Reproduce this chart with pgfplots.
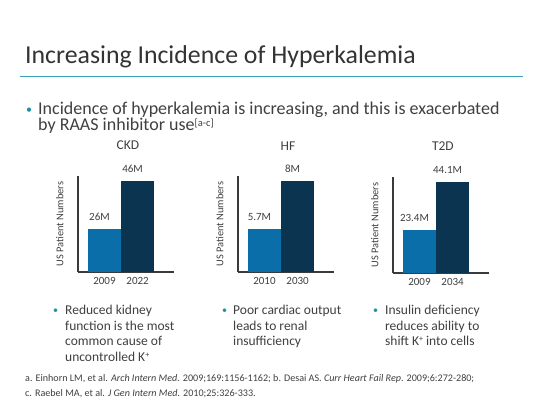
\documentclass[border=0pt]{standalone}
\usepackage{fontspec}
\setmainfont{Carlito}
\usepackage{pgfplots}
\pgfplotsset{compat=1.18}
\definecolor{txt}{HTML}{404040}
\definecolor{ttl}{HTML}{333333}
\definecolor{rulec}{HTML}{3AA0BA}
\definecolor{bul}{HTML}{1F8FA6}
\definecolor{cA}{HTML}{0A6FA8}
\definecolor{cB}{HTML}{0B3450}
\definecolor{axc}{HTML}{3A3A3A}
\newcommand{\fs}[1]{\fontsize{#1}{#1}\selectfont}
\pgfplotsset{panel/.style={
  scale only axis, width=96pt, height=96pt, anchor=south west,
  axis lines=left, axis line style={-, draw=axc, line width=1.3pt},
  xmin=0.2, xmax=3.1, xtick={1,2}, ytick=\empty, major tick length=0pt,
  ybar, bar width=1, bar shift=0pt,
  tick label style={font=\fs{11}, text=txt},
  xticklabel style={yshift=-1.5pt},
  /pgf/number format/assume math mode=true,
  ylabel={US Patient Numbers},
  ylabel style={at={(axis description cs:-0.19,0.5)}, anchor=center, font=\fs{10.4}, text=txt},
  title style={at={(axis description cs:0.52,1)}, anchor=base, yshift=20pt, font=\fs{13.5}, text=txt},
  nodes near coords={\pgfmathprintnumber[fixed,precision=1]{\pgfplotspointmeta}M},
  nodes near coords style={anchor=base, inner sep=0pt, yshift=8.5pt, xshift=-5pt, font=\fs{11}, text=txt},
}}
\begin{document}
\begin{tikzpicture}
\fill[white] (0pt,0pt) rectangle (540pt,405pt);
\useasboundingbox (0pt,0pt) rectangle (540pt,405pt);
% title
\node[anchor=base west, inner sep=0pt, text=ttl, font=\fs{25.8}] at (25pt,341pt) {Increasing Incidence of Hyperkalemia};
\draw[rulec, line width=1pt] (20pt,328.3pt) -- (523pt,328.3pt);
% main bullet
\node[anchor=base west, inner sep=0pt, text=bul, font=\fs{12}] at (26pt,291pt) {•};
\node[anchor=base west, inner sep=0pt, text=txt, font=\fs{18}] at (38pt,290.5pt) {Incidence of hyperkalemia is increasing, and this is exacerbated};
\node[anchor=base west, inner sep=0pt, text=txt, font=\fs{18}] at (38pt,274.5pt) {by RAAS inhibitor use\raisebox{4pt}{\fs{10.5}[a-c]}};
% panels
\begin{axis}[panel, at={(78pt,133pt)}, ymin=8.08, ymax=48.08, xticklabels={2009,2022}, title={CKD}]
\addplot[fill=cA, draw=none] coordinates {(1,26)};
\addplot[fill=cB, draw=none] coordinates {(2,46)};
\end{axis}
\begin{axis}[panel, at={(238pt,133pt)}, ymin=3.64, ymax=8.24, xticklabels={2010,2030}, title={HF}]
\addplot[fill=cA, draw=none] coordinates {(1,5.7)};
\addplot[fill=cB, draw=none] coordinates {(2,8)};
\end{axis}
\begin{axis}[panel, at={(393pt,132pt)}, ymin=4.86, ymax=46.26, xticklabels={2009,2034}, title={T2D}]
\addplot[fill=cA, draw=none] coordinates {(1,23.4)};
\addplot[fill=cB, draw=none] coordinates {(2,44.1)};
\end{axis}
% bottom bullets
\foreach \bx/\tx/\la/\lb/\lc/\ld in {53/65/Reduced kidney/function is the most/common cause of/uncontrolled K\raisebox{3.5pt}{\fs{8}+},
  222/233/Poor cardiac output/leads to renal/insufficiency/,
  373/385/Insulin deficiency/reduces ability to/shift K\raisebox{3.5pt}{\fs{8}+} into cells/}{
  \node[anchor=base west, inner sep=0pt, text=bul, font=\fs{10}] at (\bx pt,92pt) {•};
  \node[anchor=base west, inner sep=0pt, text=txt, font=\fs{13.5}] at (\tx pt,91pt) {\la};
  \node[anchor=base west, inner sep=0pt, text=txt, font=\fs{13.5}] at (\tx pt,75pt) {\lb};
  \node[anchor=base west, inner sep=0pt, text=txt, font=\fs{13.5}] at (\tx pt,60pt) {\lc};
  \node[anchor=base west, inner sep=0pt, text=txt, font=\fs{13.5}] at (\tx pt,44pt) {\ld};
}
% footnotes
\node[anchor=base west, inner sep=0pt, text=txt, font=\fs{10.1}] at (25pt,24pt) {a. Einhorn LM, et al. \textit{Arch Intern Med.} 2009;169:1156-1162; b. Desai AS. \textit{Curr Heart Fail Rep}. 2009;6:272-280;};
\node[anchor=base west, inner sep=0pt, text=txt, font=\fs{10.1}] at (25pt,9pt) {c. Raebel MA, et al. \textit{J Gen Intern Med.} 2010;25:326-333.};
\end{tikzpicture}
\end{document}
